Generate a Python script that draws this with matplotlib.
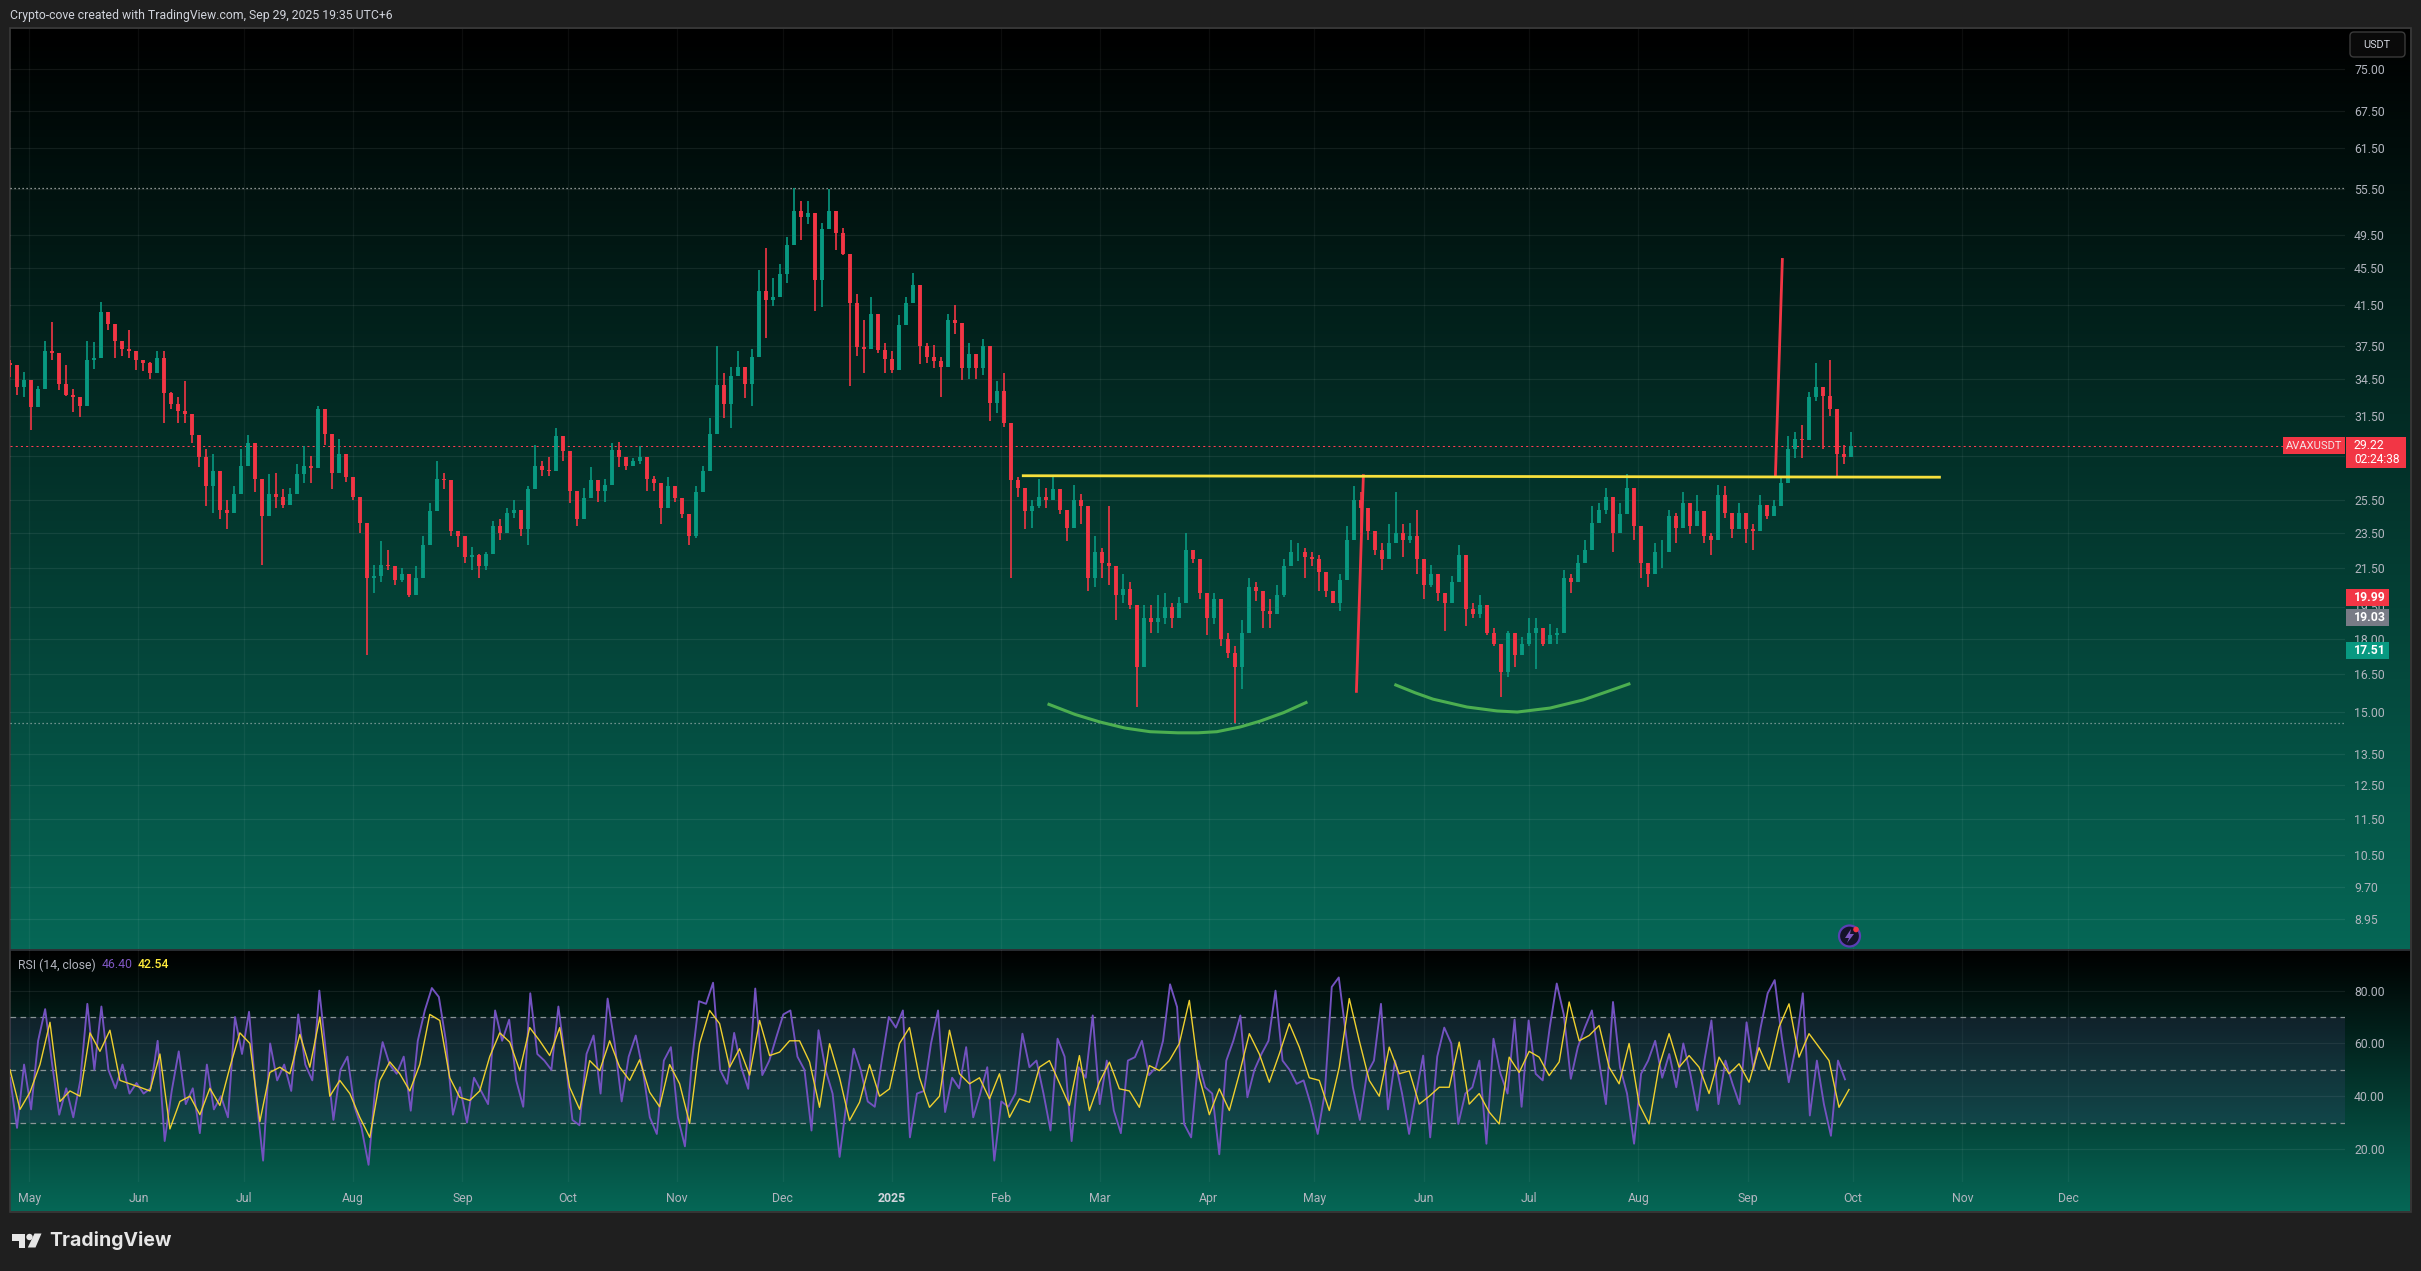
import numpy as np
import pandas as pd
import matplotlib
matplotlib.use('Agg')
import matplotlib.pyplot as plt
from matplotlib.patches import Rectangle, Polygon, Circle, FancyBboxPatch
from matplotlib.ticker import NullLocator

# --------------------------------------------------
# DATA (one candle every 2 days or so)
# --------------------------------------------------
closes = [
    35.7, 33.8, 34.4, 32.2, 33.7, 37.0, 36.8, 34.1, 33.2, 33.0, 32.3, 36.2, 36.4, 40.8, 39.6, 38.0, 37.2, 37.0, 36.2, 35.9,
    35.0, 36.4, 33.3, 32.4, 31.9, 31.6, 30.0, 28.4, 26.4, 27.4, 24.9, 24.7, 25.9, 27.8, 29.4, 26.9, 24.5, 25.9, 25.7, 25.2,
    25.9, 27.2, 27.8, 27.6, 32.0, 30.1, 27.3, 28.6, 27.0, 25.7, 24.1, 21.0, 21.1, 21.7, 21.6, 20.9, 21.2, 20.1,
    21.0, 22.8, 24.8, 26.9, 26.8, 23.6, 23.3, 22.1, 22.2, 21.6, 22.3, 23.9, 23.5, 24.7, 24.9, 23.7, 26.2, 27.8, 27.5, 27.4,
    29.9, 28.8, 26.1, 24.3, 25.6, 26.8, 26.1, 26.5, 28.9, 28.4, 27.8, 28.1, 28.4, 26.9, 26.6, 25.0, 26.4, 25.6, 24.6, 23.3,
    26.0, 27.4, 30.1, 34.0, 32.4, 34.8, 35.6, 34.1, 36.5, 43.0, 42.1, 42.4, 44.9, 48.2, 52.5,
    51.8, 52.3, 44.2, 50.2, 52.5, 49.7, 47.2, 41.7, 37.4, 37.2, 40.6, 37.1, 36.3, 35.3, 39.5, 41.7, 43.7, 37.5, 36.5, 36.1,
    35.6, 40.0, 39.7, 35.5, 36.7, 35.5, 37.5, 32.5, 33.5, 30.9, 26.8,
    26.3, 24.8, 25.1, 25.7, 25.5, 26.2, 24.9, 23.8, 25.5, 25.1, 21.0, 22.4, 21.8, 21.6, 20.1, 20.4, 19.6, 16.8, 19.0, 18.8,
    19.0, 19.5, 19.0, 19.7, 22.5, 22.0, 20.2, 19.0, 19.9, 18.0, 17.4, 16.8, 18.3, 20.5, 20.3, 19.3, 19.2, 20.1, 21.6, 22.4,
    22.4, 22.1, 22.0, 21.3, 20.3, 19.7, 20.9, 23.1, 25.5, 25.0, 23.6, 22.5, 22.0, 22.9, 23.5,
    23.1, 23.3, 22.0, 20.6, 21.2, 20.2, 19.7, 20.8, 22.2, 19.4, 19.2, 19.6, 18.3, 17.8, 16.6, 18.3, 17.3, 17.8, 18.3, 18.5,
    17.8, 18.2, 18.3, 21.0, 20.8, 21.8, 22.5, 24.1, 24.9, 25.7, 23.5, 24.6, 26.3, 23.9, 21.8, 21.2, 22.4, 22.4, 24.5, 23.8,
    25.3, 23.9, 24.8, 23.3, 23.1, 25.8, 24.7, 23.7, 24.7, 23.7, 23.6, 25.2, 24.5, 25.1, 26.6,
    29.0, 29.7, 29.6, 33.0, 33.8, 33.1, 32.0, 28.6, 28.4, 29.22,
]
highs = [
    36.2, 35.4, 35.1, 33.8, 33.9, 38.0, 39.8, 34.9, 35.7, 33.7, 33.0, 38.0, 37.9, 41.8, 40.8, 38.6, 38.0, 39.0, 37.0, 36.2,
    36.0, 37.0, 37.0, 33.4, 33.0, 34.3, 30.7, 29.4, 29.0, 28.6, 25.7, 25.5, 26.4, 29.0, 30.0, 29.0, 24.7, 27.2, 27.3, 26.2,
    26.3, 27.9, 29.2, 28.5, 32.3, 31.6, 29.4, 29.7, 28.4, 26.4, 25.7, 22.9, 21.7, 23.0, 22.5, 21.6, 21.5, 20.6,
    21.6, 23.3, 25.3, 28.1, 27.3, 24.5, 23.6, 22.9, 22.7, 22.3, 22.4, 24.2, 24.3, 25.0, 25.5, 24.3, 26.4, 29.3, 28.1, 28.4,
    30.5, 29.5, 28.8, 25.5, 26.3, 27.7, 26.7, 26.9, 29.4, 29.5, 28.4, 28.3, 29.2, 27.9, 27.1, 25.6, 27.0, 26.4, 25.1, 24.0,
    26.4, 27.8, 31.3, 37.5, 35.0, 35.6, 37.0, 35.6, 37.2, 45.3, 47.9, 44.4, 46.0, 49.2, 55.7,
    53.8, 53.9, 48.5, 51.0, 55.5, 52.5, 50.4, 43.8, 42.7, 40.0, 42.4, 38.8, 37.8, 37.0, 40.5, 42.4, 45.0, 39.5, 37.8, 37.6,
    36.5, 40.6, 41.5, 39.3, 37.8, 36.5, 38.1, 34.3, 34.3, 35.0, 30.8,
    27.0, 25.5, 25.5, 26.9, 26.3, 27.0, 25.8, 24.1, 26.5, 25.9, 23.1, 23.3, 22.6, 25.1, 21.6, 21.2, 20.8, 19.0, 19.6, 19.6,
    20.1, 20.2, 19.7, 20.0, 23.5, 22.3, 20.7, 19.7, 20.2, 18.5, 18.3, 17.7, 18.9, 21.0, 20.8, 19.8, 19.9, 20.6, 22.0, 23.1,
    22.9, 22.6, 22.4, 22.2, 20.9, 20.2, 21.2, 23.9, 26.4, 26.0, 24.3, 23.1, 22.9, 24.0, 26.0,
    24.0, 24.1, 24.9, 21.0, 21.7, 21.2, 20.0, 21.1, 22.8, 21.3, 19.7, 20.1, 19.0, 18.5, 16.9, 18.4, 17.6, 18.1, 19.0, 19.0,
    18.5, 18.7, 18.5, 21.4, 21.2, 22.2, 23.1, 25.1, 25.3, 26.3, 24.6, 25.3, 27.2, 24.6, 22.4, 21.8, 22.9, 23.1, 24.9, 24.7,
    26.0, 24.6, 25.8, 23.7, 23.5, 26.5, 26.4, 24.4, 25.3, 24.0, 24.0, 25.8, 24.8, 25.5, 27.0,
    29.9, 30.2, 30.8, 33.4, 35.9, 33.4, 36.2, 29.8, 29.3, 30.2,
]
lows = [
    34.7, 33.2, 33.0, 30.4, 33.3, 35.5, 36.2, 33.6, 33.1, 31.8, 31.4, 34.1, 35.4, 39.8, 39.0, 36.4, 36.6, 36.4, 35.3, 35.2,
    34.5, 35.5, 30.9, 32.0, 30.9, 30.9, 29.4, 27.7, 25.1, 24.7, 24.3, 23.7, 25.1, 27.4, 28.4, 26.0, 21.7, 25.0, 25.0, 25.0,
    25.5, 26.4, 26.6, 26.6, 28.4, 29.3, 26.2, 27.3, 26.7, 25.5, 23.5, 17.3, 20.2, 20.8, 21.4, 20.6, 20.8, 20.0,
    20.3, 21.4, 23.2, 26.4, 26.2, 23.3, 22.7, 21.8, 21.4, 21.0, 21.4, 23.2, 23.1, 23.7, 24.4, 23.3, 22.8, 27.0, 27.1, 27.1,
    29.1, 28.1, 25.3, 23.9, 25.3, 26.3, 25.4, 25.4, 28.1, 27.7, 27.5, 27.8, 27.9, 26.1, 26.1, 24.0, 25.6, 25.4, 24.4, 22.8,
    23.2, 26.9, 28.3, 31.7, 31.3, 30.5, 34.9, 32.9, 32.3, 37.6, 38.2, 41.4, 43.8, 43.9, 50.0,
    48.8, 50.9, 40.9, 41.3, 51.2, 47.7, 47.0, 33.9, 36.6, 35.0, 39.5, 36.8, 35.0, 35.0, 37.0, 41.0, 43.4, 35.8, 35.9, 35.5,
    33.0, 38.6, 38.6, 34.4, 34.5, 34.5, 34.9, 31.1, 31.7, 30.6, 21.0,
    25.7, 23.7, 23.8, 25.0, 25.0, 25.5, 24.6, 23.0, 24.3, 24.0, 20.3, 20.5, 21.0, 20.6, 18.9, 19.7, 19.4, 15.2, 17.5, 18.3,
    18.3, 18.7, 18.5, 19.5, 21.2, 21.8, 19.9, 18.2, 18.7, 17.7, 17.2, 14.6, 15.9, 19.0, 19.8, 18.5, 18.5, 19.7, 20.0, 21.9,
    21.9, 21.0, 21.6, 20.3, 20.0, 19.7, 19.3, 21.9, 23.3, 23.5, 23.1, 22.2, 21.4, 22.4, 23.2,
    22.1, 22.9, 21.2, 19.9, 20.5, 19.8, 18.4, 20.1, 21.6, 18.6, 19.0, 19.0, 18.2, 17.7, 15.6, 16.4, 16.8, 17.4, 17.7, 16.7,
    17.7, 17.8, 17.8, 19.7, 20.2, 21.0, 21.9, 23.0, 24.1, 24.6, 22.4, 23.5, 24.6, 23.1, 21.0, 20.5, 21.6, 21.5, 23.5, 22.9,
    24.7, 23.4, 24.2, 22.9, 22.2, 24.8, 24.4, 23.2, 24.4, 22.9, 22.5, 24.4, 24.3, 24.7, 25.7,
    28.1, 28.3, 28.3, 29.6, 32.7, 29.0, 31.5, 27.0, 27.9, 29.2,
]

rsi = [
    47, 28, 52, 35, 61, 73, 52, 33, 43, 32, 46, 75, 50, 74, 50, 43, 52, 41, 45, 41, 43, 61, 23, 42, 57, 37, 43, 26, 52, 35,
    40, 32, 70, 56, 72, 40, 15.6, 60, 46, 52, 42, 71, 52, 46, 80, 55, 31, 50, 55, 36, 28, 14, 45, 60.5, 52, 48.5, 55, 34.5,
    61, 72.5, 81, 77.6, 61, 33, 43.4, 30, 47, 42, 37, 72.5, 61,
    69, 46, 36, 79, 56, 53.5, 50, 74, 53.5, 31, 29, 56, 63, 41, 77, 60, 38, 55, 63, 50, 32, 25.7, 53.5, 58.6, 32, 21, 53.5,
    76, 75, 83, 50, 44.7, 64, 51, 42.8, 80.8, 48, 53.5, 62.4, 71, 72.5, 55, 50, 27, 65, 50, 41, 17, 38, 58, 50, 38, 36, 53.5,
    70, 66, 72.5, 24.4, 41, 42, 60, 72.5, 34, 47, 43, 58.6, 32, 41, 51, 15.6, 38, 36, 41, 63.7, 51, 53.5, 41, 27, 61.8, 55,
    23, 51,
    47, 70.6, 37, 53.5, 34.6, 26, 53.5, 54.8, 61, 48, 51, 61, 82.4, 73.8, 29.5, 24.4, 53.5, 43.4, 41, 18, 53.5, 61, 70.6,
    39.6, 50, 56, 61, 80, 53.5, 50, 44.7, 46, 37, 25.7, 41, 81.4, 85, 63.7, 43.4, 31, 48.5, 53.5, 75, 35, 53.5, 41, 25.7,
    41, 55.4, 24.4, 55, 66, 60, 29.5, 41, 43.4, 53.5, 22, 61.8, 48.5, 41, 69, 36, 68.7, 48.5, 46, 66, 82.7, 71, 46.6, 58.6,
    66, 72.5, 53.5, 37, 75.7, 51, 41, 22, 48.5, 53.5, 61, 47, 56, 43.4, 60, 48.5, 34.6, 53.5, 68.7, 37, 53.5, 44.7, 37, 68,
    50, 66, 79, 84, 62.4, 45.3, 58.6, 79, 32.7, 53.5, 37, 25, 53.5, 46.4,
]
rsi_ma = [
    50, 35, 41.5, 52, 68, 38, 42, 40, 64, 57, 65, 46, 44.7, 43.4, 42, 56, 27.6, 38, 40, 33, 43, 36.5, 51, 64, 60, 30.4, 49,
    51, 48.5, 63.4, 51, 70, 40, 46, 41, 32, 24.4, 46, 53, 48.5, 42, 52, 71, 68.7, 47, 39.6, 38.4, 42, 55, 64,
    60.5, 49.7, 66, 61, 55.4, 66, 43.4, 35, 53.5, 49.7, 61, 51, 46, 53.8, 41.5, 36, 52, 44.7, 29.7, 60, 72.5, 67.5, 51, 58,
    48, 68.7, 55.4, 56.7, 61, 61, 53, 35.8, 59.9, 47, 30.8, 37.7, 52, 40, 42.8, 60, 66, 47, 35.8, 40, 65, 48.5, 44.7, 47,
    39, 48.5, 32, 39, 37.7, 51, 53.5, 45, 36.5, 55.4, 34.6,
    45.3, 52.9, 42.8, 42, 35.8, 51.6, 49.7, 53.5, 60, 76.3, 47, 33, 42.8, 34.6, 48.5, 63.7, 56, 45.3, 56, 67.5, 58.6, 47,
    46, 34.6, 51, 77, 61, 46, 40, 58.6, 48.5, 49.6, 37, 40, 43.4, 43.4, 60.5, 37, 41, 34, 29.5, 54.8, 49, 57, 54.8, 47.8,
    53, 75.7, 61, 63, 66.8, 51, 44.7, 60, 37, 29.5, 51.4, 63.7, 51, 55.4, 51, 41, 54.8, 48.5, 52.3, 45.3, 58.4, 50, 66.2,
    75, 54.8, 63.7, 58.6, 53.5, 35.8, 42.54,
]

month_labels = ['May', 'Jun', 'Jul', 'Aug', 'Sep', 'Oct', 'Nov', 'Dec', '2025', 'Feb', 'Mar', 'Apr',
                'May', 'Jun', 'Jul', 'Aug', 'Sep', 'Oct', 'Nov', 'Dec']
month_starts = pd.date_range('2024-05-01', periods=20, freq='MS')

price_ticks = [75, 67.5, 61.5, 55.5, 49.5, 45.5, 41.5, 37.5, 34.5, 31.5, 28.5, 25.5, 23.5, 21.5, 19.5, 18, 16.5,
               15, 13.5, 12.5, 11.5, 10.5, 9.7, 8.95]
rsi_ticks = [20, 40, 60, 80]

last_price = 29.22
top_level = 55.7
low_level = 14.6
neck_days = [281.9, 542.9]
neck_prices = [27.1, 27.0]
wick1_days = [376.9, 378.9]
wick1_prices = [15.75, 27.2]
wick2_days = [495.9, 497.9]
wick2_prices = [27.0, 46.7]
arc1_days = [289.6, 297.0, 304.1, 311.2, 318.3, 326.2, 331.9, 337.3, 343.9, 349.5, 356.3, 362.6]
arc1_prices = [15.3, 14.92, 14.64, 14.42, 14.29, 14.25, 14.25, 14.29, 14.46, 14.67, 14.99, 15.37]
arc2_days = [388.1, 393.6, 398.7, 408.3, 416.9, 422.6, 431.9, 441.3, 447.8, 454.3]
arc2_prices = [16.06, 15.75, 15.5, 15.2, 15.05, 15.01, 15.16, 15.47, 15.78, 16.1]

UP = '#089981'
DOWN = '#F23645'
DARK = '#1F1F1F'
TEXT = '#B2B5BE'
FONT = 'Roboto'

# --------------------------------------------------
# LAYOUT (pixel helpers)
# --------------------------------------------------
W, H = 2421, 1271
PX_PER_DAY = 3.521
X0 = 29.3  # pixel of 2024-05-01


def day(px):
    return (px - X0) / PX_PER_DAY


def add_axes(left, top, right, bottom, **kw):
    return fig.add_axes([left / W, 1 - bottom / H, (right - left) / W, (bottom - top) / H], **kw)


fig = plt.figure(figsize=(W / 100, H / 100), dpi=100, facecolor=DARK)
plt.rcParams['font.family'] = FONT

# background gradients, in pixel space
bg = add_axes(0, 0, W, H, zorder=0)
bg.set_xlim(0, W)
bg.set_ylim(H, 0)
bg.axis('off')
black = np.array([0, 0, 0])
green = np.array([6, 103, 86])
grad = (black[None, :] + np.linspace(0, 1, 256)[:, None] * (green - black)[None, :]) / 255
grad = grad[:, None, :]
bg.imshow(grad, extent=(10, 2410, 949, 29), aspect='auto', zorder=1)
bg.imshow(grad, extent=(10, 2410, 1211, 950), aspect='auto', zorder=1)
bg.set_xlim(0, W)
bg.set_ylim(H, 0)
bg.add_patch(Rectangle((9.5, 27.5), 2401, 1184, fill=False, ec='#3A3A3A', lw=1.2, zorder=2))
bg.plot([10, 2410], [949.5, 949.5], color='#30343A', lw=1.2, zorder=2)

# --------------------------------------------------
# PRICE PANE
# --------------------------------------------------
ax = add_axes(10, 29, 2345, 949, zorder=1)
ax.patch.set_alpha(0)
ax.set_yscale('log')
ax.set_xlim(day(10), day(2345))
ax.set_ylim(8.30, 82.8)

tick_days = [(d - month_starts[0]).days for d in month_starts]

ax.set_yticks(price_ticks)
# the 28.50 label sits fully under the last price flag
ax.set_yticklabels(['' if p == 28.5 else f'{p:.2f}' for p in price_ticks], fontsize=8.8, color=TEXT)
ax.yaxis.set_minor_locator(NullLocator())
ax.yaxis.tick_right()
ax.tick_params(axis='y', which='both', length=0, pad=6.5)
ax.set_xticks(tick_days)
ax.tick_params(axis='x', length=0, labelbottom=False)
ax.grid(True, axis='y', color='white', alpha=0.075, lw=0.9)
ax.grid(True, axis='x', color='white', alpha=0.05, lw=0.9)
ax.set_axisbelow(True)
for s in ax.spines.values():
    s.set_visible(False)

closes_a = np.array(closes)
opens_a = np.r_[35.9, closes_a[:-1]]
days = np.linspace(day(10), day(1851), len(closes_a))
colors = np.where(closes_a >= opens_a, UP, DOWN)

ax.vlines(days, lows, highs, colors=colors, lw=1.2, zorder=3)
ax.vlines(days, np.minimum(opens_a, closes_a), np.maximum(opens_a, closes_a), colors=colors, lw=2.8, zorder=3)
ax.plot(wick1_days, wick1_prices, color=DOWN, lw=2.0, zorder=4, solid_capstyle='butt')
ax.plot(wick2_days, wick2_prices, color=DOWN, lw=2.0, zorder=4, solid_capstyle='butt')

ax.axhline(top_level, color='#B7BCBC', lw=0.9, ls=(0, (1, 2.2)), zorder=2)
ax.axhline(low_level, color='#8FA8A3', lw=0.9, ls=(0, (1, 2.2)), zorder=2)
ax.plot([day(10), day(2283)], [last_price, last_price], color='#FF3B50', lw=0.75, ls=(0, (2, 3)), zorder=2)

ax.plot(neck_days, neck_prices, color='#F7E03C', lw=2.0, zorder=5, solid_capstyle='butt')
ax.plot(arc1_days, arc1_prices, color='#4CAF50', lw=2.2, zorder=5, solid_joinstyle='round')
ax.plot(arc2_days, arc2_prices, color='#4CAF50', lw=2.2, zorder=5, solid_joinstyle='round')

# --------------------------------------------------
# RSI PANE
# --------------------------------------------------
ax2 = add_axes(10, 950, 2345, 1182, zorder=1)
ax2.patch.set_alpha(0)
ax2.set_xlim(day(10), day(2345))
ax2.set_ylim(7.5, 95.4)
ax2.set_yticks(rsi_ticks)
ax2.set_yticklabels([f'{v:.2f}' for v in rsi_ticks], fontsize=8.8, color=TEXT)
ax2.yaxis.tick_right()
ax2.tick_params(axis='y', length=0, pad=6.5)
ax2.set_xticks(tick_days)
ax2.set_xticklabels(month_labels, fontsize=8.8, color=TEXT)
for lab in ax2.get_xticklabels():
    if lab.get_text() == '2025':
        lab.set_fontweight('bold')
        lab.set_color('#D1D4DC')
ax2.tick_params(axis='x', length=0, pad=7)
ax2.grid(True, axis='y', color='white', alpha=0.075, lw=0.9)
ax2.grid(True, axis='x', color='white', alpha=0.05, lw=0.9)
ax2.set_axisbelow(True)
for s in ax2.spines.values():
    s.set_visible(False)

ax2.axhspan(30, 70, color='#7E57C2', alpha=0.12, lw=0, zorder=1)
for lvl in (30, 50, 70):
    ax2.axhline(lvl, color='#8A9496', lw=0.9, ls=(0, (4.5, 3.5)), zorder=2)
ax2.plot(np.linspace(day(10), day(1845), len(rsi)), rsi, color='#7352C0', lw=1.35, zorder=3)
ax2.plot(np.linspace(day(10), day(1849), len(rsi_ma)), rsi_ma, color='#EFD02E', lw=1.0, zorder=4)

# --------------------------------------------------
# LABELS AND CHROME
# --------------------------------------------------
top = add_axes(0, 0, W, H, zorder=5)
top.patch.set_alpha(0)
top.set_xlim(0, W)
top.set_ylim(H, 0)
top.axis('off')

top.text(9.5, 15, 'Crypto-cove created with TradingView.com, Sep 29, 2025 19:35 UTC+6',
         fontsize=8.85, color='#D1D4DC', va='center', ha='left')
top.text(18, 965, 'RSI (14, close)', fontsize=8.8, color=TEXT, va='center')
top.text(102, 965, '46.40', fontsize=8.8, color='#7E57C2', va='center')
top.text(138, 965, '42.54', fontsize=8.8, color='#FFEB3B', va='center', fontweight='medium')

# USDT button
top.add_patch(FancyBboxPatch((2350, 32), 55, 25, boxstyle='round,pad=0,rounding_size=4',
                             fc='#0A0A0A', ec='#3A3A3A', lw=1))
top.text(2377, 45, 'USDT', fontsize=7.8, color='#D1D4DC', ha='center', va='center')

# price flags
top.add_patch(Rectangle((2283, 437), 62, 17, fc=DOWN, ec='none'))
top.text(2314, 446, 'AVAXUSDT', fontsize=8, color='#F4E4E6', ha='center', va='center')
top.add_patch(Rectangle((2346, 437), 60, 31, fc=DOWN, ec='none'))
top.text(2354, 445.5, '29.22', fontsize=8.8, color='white', va='center')
top.text(2354, 459.5, '02:24:38', fontsize=8.6, color='white', va='center')
flags = [('19.99', 589, DOWN), ('19.03', 609, '#787B86'), ('17.51', 642, UP)]
for label, y, col in flags:
    top.add_patch(Rectangle((2346, y), 43, 17, fc=col, ec='none'))
    top.text(2354, y + 8.5, label, fontsize=8.8, color='white', va='center', fontweight='bold')

# alert icon
top.add_patch(Circle((1849.5, 936), 10.5, fc='#15132A', ec='#5B3FB5', lw=1.6))
top.add_patch(Polygon([(1851, 929), (1845, 938), (1849, 938), (1847, 943), (1854, 934), (1850, 934)],
                      fc='#7E57C2', ec='none'))
top.add_patch(Circle((1856, 929.5), 2.8, fc=DOWN, ec='none'))

# TradingView logo
logo = '#E6E6E6'
top.add_patch(Polygon([(12.3, 1233.5), (25, 1233.5), (25, 1247.5), (18.5, 1247.5), (18.5, 1240.5), (12.3, 1240.5)],
                      fc=logo, ec='none'))
top.add_patch(Circle((29.5, 1237), 3.2, fc=logo, ec='none'))
top.add_patch(Polygon([(34.5, 1233.5), (41.5, 1233.5), (35.5, 1247.5), (27.8, 1247.5)], fc=logo, ec='none'))
top.text(49, 1241, 'TradingView', fontsize=14, color=logo, va='center', ha='left', family='Inter', fontweight='bold')

fig.savefig('out.png', dpi=100, facecolor=DARK)
